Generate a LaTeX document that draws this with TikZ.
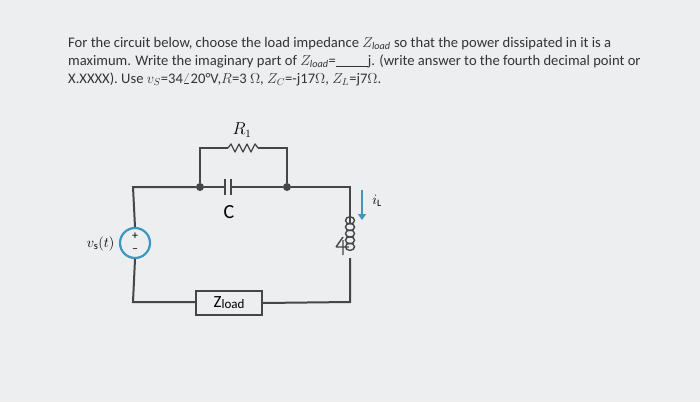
\documentclass[tikz,border=0pt]{standalone}
\usepackage{fontspec}
\setmainfont{Carlito}
\usetikzlibrary{decorations.pathmorphing,arrows.meta}
\definecolor{bg}{RGB}{236,238,240}
\definecolor{wirec}{RGB}{70,70,70}
\definecolor{blu}{RGB}{60,150,190}
\tikzset{wire/.style={draw=wirec,line width=2pt},
 txt/.style={anchor=base west,inner sep=0pt,font=\fontsize{14.6}{16}\selectfont,text=black!80},
 dotn/.style={circle,fill=wirec,inner sep=0pt,minimum size=8pt}}
\begin{document}
\begin{tikzpicture}[x=1pt,y=-1pt]
\fill[bg] (0,0) rectangle (700,402);
\useasboundingbox (0,0) rectangle (700,402);
\node[txt] (l1) at (68,47) {For the circuit below, choose the load impedance $Z_{\mathit{load}}$ so that the power dissipated in it is a};
\node[txt] (l2) at (68,65) {maximum. Write the imaginary part of $Z_{\mathit{load}}$=\rule[-1pt]{32pt}{0.4pt}j. (write answer to the fourth decimal point or};
\node[txt] (l3) at (68,83) {X.XXXX). Use $v_S$=34$\angle$20°V,$R$=3 $\Omega$, $Z_C$=-j17$\Omega$, $Z_L$=j7$\Omega$.};
\coordinate (tl) at (133,187); \coordinate (tr) at (350,187);
\coordinate (bl) at (133,302); \coordinate (br) at (350,302);
\node[dotn] (n1) at (200,187) {};
\node[dotn] (n2) at (287,187) {};
\node[circle,draw=blu,line width=2.2pt,minimum size=30pt,inner sep=0pt,fill=bg] (vs) at (135,243) {};
\node[font=\large] at (135,236) {+};
\node[font=\large] at (135,251) {--};
\node[font=\itshape\fontsize{15}{15}\selectfont,anchor=east] (vsl) at (118,244) {$v_{\mathrm s}(t)$};
\draw[wire] (vs.north) -- (tl) -- (n1);
\draw[wire] (vs.south) -- (bl) -- (196,302);
\node[draw=wirec,line width=1.6pt,minimum width=66pt,minimum height=24pt,inner sep=0pt,fill=bg] (zl) at (229,303) {\fontsize{17}{17}\selectfont Z\raisebox{-1pt}{\fontsize{13}{13}\selectfont load}};
\draw[wire] (zl.east) -- (br) -- (350,258);
\draw[wire] (n2) -- (tr) -- (350,224);
\draw[wire] (n1) -- (225,187) (231,187) -- (n2);
\draw[wirec,line width=1.6pt] (225,179) -- (225,195) (231,179) -- (231,195);
\node[font=\fontsize{20}{20}\selectfont] (cl) at (229,212) {C};
\draw[wire] (n1) -- (200,148) -- (228,148);
\draw[wirec,line width=1.3pt,line join=round] (228,148) -- (231,144) -- (235,152) -- (239,144) -- (243,152) -- (247,144) -- (251,152) -- (255,144) -- (258,148);
\draw[wire] (258,148) -- (287,148) -- (n2);
\node[font=\itshape\fontsize{16}{16}\selectfont] (rl) at (242,130) {$R_1$};
\draw[wirec,line width=1.4pt] (350,224)
  \foreach \i in {0,...,4}{ arc[start angle=90,end angle=-270,x radius=4.5,y radius=3.6] ++(0,6.6) } ;
\draw[wirec,line width=1.4pt] (336,247) -- (349,247) (343,240) -- (343,255) (343,237) -- (336,247);
\draw[blu,line width=2.6pt,-{Triangle[length=6pt,width=8pt]}] (362,190) -- (362,220);
\node[font=\itshape\fontsize{14}{14}\selectfont] (il) at (377,201) {$i_{\mathrm L}$};
\end{tikzpicture}
\end{document}
